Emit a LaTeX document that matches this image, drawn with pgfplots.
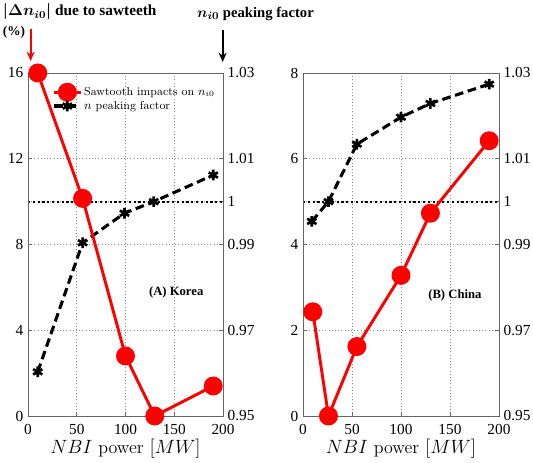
\documentclass[border=0pt]{standalone}
\usepackage{fontspec}
\usepackage{bm}
\usepackage{pgfplots}
\pgfplotsset{compat=1.18}
\usetikzlibrary{arrows.meta}
\newfontfamily\timesfont{Liberation Serif}

\pgfplotsset{
  base/.style={scale only axis, height=257.25pt, xmin=0, xmax=200, clip=false,
    axis line style={black!60, line width=0.6pt}, tick style={black!60, line width=0.5pt},
    major tick length=3pt, tick align=inside,
    tick label style={font=\timesfont\fontsize{11.5}{13}\selectfont},
    /pgf/number format/assume math mode=true},
  rightax/.style={base, ymin=0.95, ymax=1.03,
    ytick={0.95,0.97,0.99,1,1.01,1.03}, yticklabels={0.95,0.97,0.99,1,1.01,1.03},
    ytick pos=right, yticklabel pos=right,
    xtick={0,50,100,150,200}, xticklabels={0,50,100,150,200}, xtick pos=bottom,
    xticklabel style={yshift=-3pt},
    grid=major, major grid style={black!45, dotted, line width=0.5pt},
    xlabel={$NBI$ power $[MW]$}, xlabel style={font=\fontsize{13.5}{16}\selectfont, yshift=4pt}},
  leftax/.style={base, axis x line=none, axis y line*=left},
  blk/.style={black, line width=2.3pt, dash pattern=on 6.5pt off 3.5pt, mark=asterisk, mark size=4pt, mark options={solid, line width=2pt}},
  rd/.style={red, line width=2.2pt, mark=*, mark size=6pt, mark options={fill=red, draw=red, solid}},
  dots/.style={black, line width=1.6pt, dash pattern=on 1.6pt off 2pt},
}

\begin{document}
\begin{tikzpicture}
\path[use as bounding box] (0,0) rectangle (399.75pt,347.25pt);

% ---------- Panel A ----------
\begin{axis}[rightax, width=146.25pt, at={(21pt,35.25pt)}, anchor=south west]
\addplot[dots] coordinates {(0,1) (200,1)};
\addplot[blk] coordinates {(10,0.9603) (56,0.9904) (99,0.9973) (129,1.0) (190,1.0062)};
\end{axis}
\begin{axis}[leftax, width=146.25pt, at={(21pt,35.25pt)}, anchor=south west,
  ymin=0, ymax=16, ytick={0,4,8,12,16}, yticklabels={0,4,8,12,16},
  legend style={draw=none, fill=none, at={(0.124,0.968)}, anchor=north west,
    font=\fontsize{8.7}{10}\selectfont, row sep=-1pt, inner sep=0pt, nodes={inner sep=1.5pt}},
  legend cell align=left,
  legend image code/.code={\draw[mark repeat=2,mark phase=2] plot coordinates {(0pt,0pt) (10pt,0pt) (20pt,0pt)};}]
\addplot[rd] coordinates {(10,16) (56,10.15) (100,2.8) (130,0) (190,1.4)};
\addlegendentry{Sawtooth impacts on $n_{i0}$}
\addlegendimage{blk}
\addlegendentry{$n$ peaking factor}
\node[font=\timesfont\bfseries\fontsize{9.5}{11}\selectfont] at (axis cs:152,5.74) {(A) Korea};
\end{axis}

% ---------- Panel B ----------
\begin{axis}[rightax, width=147pt, at={(227.25pt,35.25pt)}, anchor=south west]
\addplot[dots] coordinates {(0,1) (200,1)};
\addplot[blk] coordinates {(9,0.9954) (26,1.0) (55,1.0134) (100,1.0197) (130,1.0229) (190,1.0274)};
\end{axis}
\begin{axis}[leftax, width=147pt, at={(227.25pt,35.25pt)}, anchor=south west,
  ymin=0, ymax=8, ytick={0,2,4,6,8}, yticklabels={0,2,4,6,8}]
\addplot[rd] coordinates {(10,2.43) (26,0) (55,1.62) (100,3.28) (130,4.73) (190,6.42)};
\node[font=\timesfont\bfseries\fontsize{9.5}{11}\selectfont] at (axis cs:155,2.8) {(B) China};
\end{axis}

% ---------- annotations ----------
\node[anchor=west, font=\timesfont\bfseries\fontsize{11.5}{13}\selectfont, inner sep=0pt] at (2pt,338.25pt) {$\bm{|\Delta n_{i0}|}$ due to sawteeth};
\node[anchor=west, font=\timesfont\bfseries\fontsize{10}{12}\selectfont, inner sep=0pt] at (2pt,323.25pt) {(\%)};
\draw[red, line width=1.6pt, -{Stealth[length=7pt,width=6pt]}] (23pt,325.5pt) -- (23pt,301.5pt);
\draw[black, line width=1.6pt, -{Stealth[length=7pt,width=6pt]}] (167pt,324.75pt) -- (167pt,300.75pt);
\node[font=\timesfont\bfseries\fontsize{11}{13}\selectfont, inner sep=0pt] at (191.6pt,336.75pt) {$\bm{n_{i0}}$ peaking factor};
\end{tikzpicture}
\end{document}
